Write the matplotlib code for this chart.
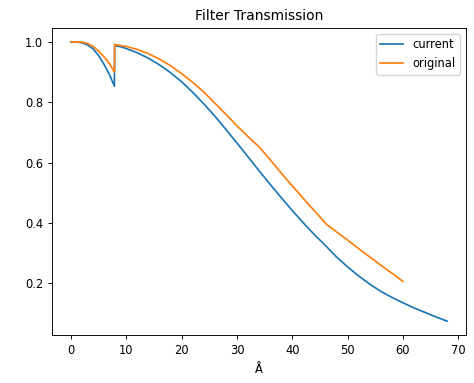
import matplotlib
matplotlib.use("Agg")
import matplotlib.pyplot as plt

cur_x = [0, 1, 2, 3, 4, 5, 6, 7, 7.85, 7.9, 9, 10, 12, 14, 16, 18, 20, 22, 24, 26, 28, 30,
         32, 34, 36, 38, 40, 42, 44, 46, 48, 50, 52, 54, 56, 58, 60, 62, 64, 66, 68]
cur_y = [1.0, 1.0, 0.997, 0.99, 0.977, 0.955, 0.925, 0.89, 0.853, 0.988, 0.984, 0.978, 0.964,
         0.946, 0.924, 0.898, 0.868, 0.833, 0.795, 0.754, 0.71, 0.665, 0.619, 0.573, 0.528,
         0.484, 0.441, 0.4, 0.361, 0.325, 0.287, 0.254, 0.224, 0.197, 0.173, 0.153, 0.135,
         0.118, 0.103, 0.088, 0.074]

orig_x = [0, 1, 2, 3, 4, 5, 6, 7, 7.85, 7.9, 9, 10, 12, 14, 16, 18, 20, 22, 24, 26, 28, 30,
          32, 34, 36, 38, 40, 42, 44, 46.2, 48, 50, 52, 54, 56, 58, 60]
orig_y = [1.0, 1.0, 0.999, 0.995, 0.985, 0.97, 0.95, 0.927, 0.9, 0.992, 0.988, 0.985, 0.975,
          0.961, 0.943, 0.921, 0.895, 0.866, 0.834, 0.797, 0.76, 0.722, 0.686, 0.652, 0.61,
          0.565, 0.523, 0.481, 0.44, 0.395, 0.37, 0.343, 0.315, 0.287, 0.26, 0.233, 0.206]

s = 0.83
fig = plt.figure(figsize=(4.74, 3.83), dpi=100)
ax = fig.add_axes([0.110, 0.125, 0.873, 0.802])
ax.plot(cur_x, cur_y, label="current", lw=1.5 * s)
ax.plot(orig_x, orig_y, label="original", lw=1.5 * s)
ax.set_title("Filter Transmission", fontsize=12 * s)
ax.set_xlabel("Å", fontsize=10 * s)
ax.tick_params(labelsize=10 * s, width=0.8 * s, length=3.5 * s)
for sp in ax.spines.values():
    sp.set_linewidth(0.8 * s)
ax.legend(fontsize=10 * s)
fig.savefig("out.png", dpi=100)
